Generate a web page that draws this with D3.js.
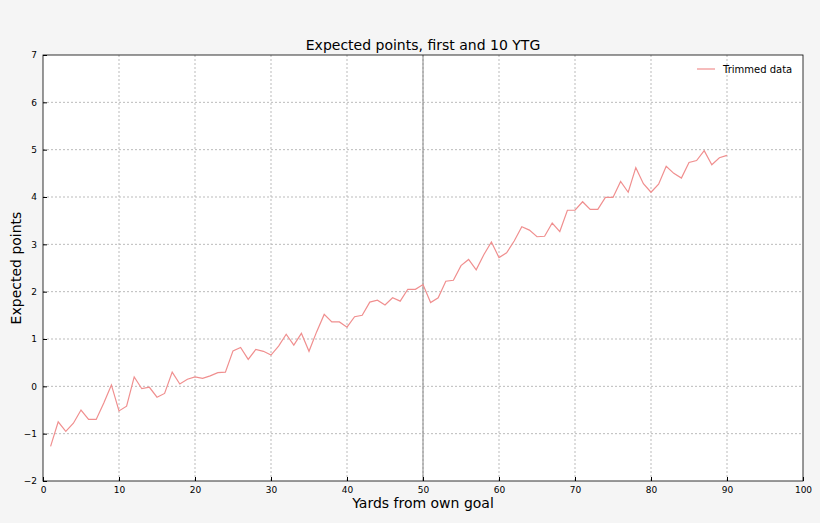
<!DOCTYPE html>
<html><head><meta charset="utf-8">
<script src="https://cdn.jsdelivr.net/npm/d3@7"></script>
<style>body{margin:0;background:#f5f5f5;font-family:"DejaVu Sans",sans-serif}</style>
</head><body><svg id="c" width="820" height="523"></svg>
<script>
const yards = d3.range(1, 91);
const expectedPoints = [-1.27,-0.75,-0.95,-0.78,-0.5,-0.7,-0.7,-0.35,0.03,-0.52,
-0.42,0.2,-0.05,-0.02,-0.23,-0.15,0.3,0.05,0.15,0.2,
0.17,0.22,0.29,0.3,0.75,0.82,0.57,0.78,0.74,0.66,
0.85,1.1,0.87,1.12,0.74,1.15,1.52,1.36,1.36,1.25,
1.47,1.5,1.78,1.82,1.72,1.87,1.8,2.05,2.05,2.15,
1.77,1.87,2.22,2.24,2.55,2.68,2.46,2.78,3.05,2.72,
2.82,3.07,3.37,3.3,3.16,3.17,3.45,3.27,3.72,3.72,
3.9,3.74,3.74,3.99,3.99,4.33,4.1,4.62,4.28,4.1,
4.27,4.65,4.5,4.4,4.73,4.77,4.98,4.68,4.83,4.88];
const xTicks = d3.range(0, 101, 10);
const yTicks = d3.range(-2, 8, 1);
const svg = d3.select("#c");
const L=43,R=803,T=55,B=481;
const x = d3.scaleLinear().domain([0,100]).range([L,R]);
const y = d3.scaleLinear().domain([-2,7]).range([B,T]);
svg.append("rect").attr("x",L).attr("y",T).attr("width",R-L).attr("height",B-T).attr("fill","#fff");
const g = svg.append("g");
g.selectAll(".gx").data(xTicks.slice(1,-1)).join("line").attr("x1",d=>x(d)).attr("x2",d=>x(d)).attr("y1",T).attr("y2",B).attr("stroke","#bbb").attr("stroke-dasharray","2,2");
g.selectAll(".gy").data(yTicks.slice(1,-1)).join("line").attr("y1",d=>y(d)).attr("y2",d=>y(d)).attr("x1",L).attr("x2",R).attr("stroke","#bbb").attr("stroke-dasharray","2,2");
svg.append("line").attr("x1",x(50)).attr("x2",x(50)).attr("y1",T).attr("y2",B).attr("stroke","#888").attr("stroke-width",1);
svg.append("path").datum(yards.map((d,i)=>[d,expectedPoints[i]])).attr("fill","none").attr("stroke","#f08f8f").attr("stroke-width",1.2)
 .attr("d",d3.line().x(d=>x(d[0])).y(d=>y(d[1])));
svg.append("rect").attr("x",L).attr("y",T).attr("width",R-L).attr("height",B-T).attr("fill","none").attr("stroke","#000").attr("stroke-width",0.8);
const xa = svg.append("g").attr("transform",`translate(0,${B})`).call(d3.axisBottom(x).tickValues(xTicks).tickSize(-4).tickPadding(6));
const ya = svg.append("g").attr("transform",`translate(${L},0)`).call(d3.axisLeft(y).tickValues(yTicks).tickSize(-4).tickPadding(6).tickFormat(d=>d<0?"\u2212"+(-d):d));
[xa,ya].forEach(a=>{a.select(".domain").remove();a.selectAll("text").attr("font-size",9).attr("font-family","DejaVu Sans");});
svg.append("text").attr("x",(L+R)/2).attr("y",50).attr("text-anchor","middle").attr("font-size",14).text("Expected points, first and 10 YTG");
svg.append("text").attr("x",(L+R)/2).attr("y",508).attr("text-anchor","middle").attr("font-size",14).text("Yards from own goal");
svg.append("text").attr("transform",`translate(21,${(T+B)/2}) rotate(-90)`).attr("text-anchor","middle").attr("font-size",14).text("Expected points");
svg.append("line").attr("x1",697).attr("x2",715).attr("y1",69).attr("y2",69).attr("stroke","#f08f8f").attr("stroke-width",1.2);
svg.append("text").attr("x",723).attr("y",73).attr("font-size",10).text("Trimmed data");
</script></body></html>
